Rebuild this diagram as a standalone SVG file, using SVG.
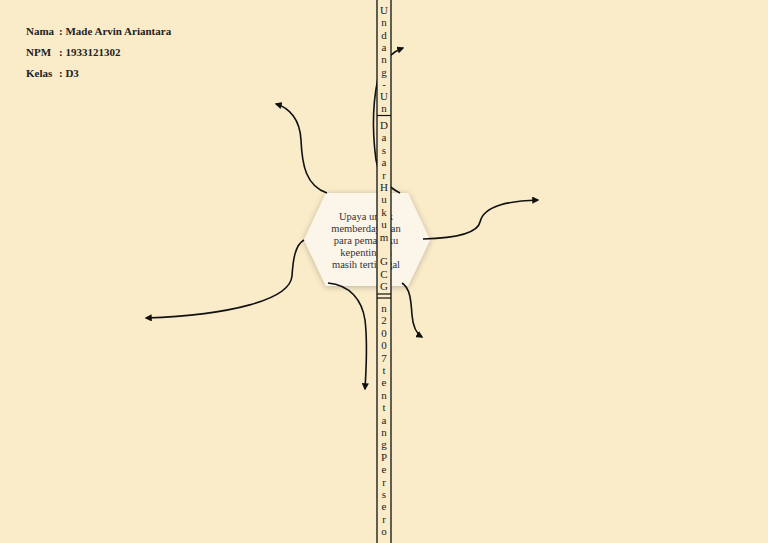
<svg xmlns="http://www.w3.org/2000/svg" width="768" height="543" viewBox="0 0 768 543">
<defs>
<style>
.info{font-family:"Liberation Serif","Times New Roman",serif;font-size:11px;font-weight:bold;fill:#222}
.hex-text{font-family:"Liberation Serif","Times New Roman",serif;font-size:10.5px;fill:#333;text-anchor:middle}
.col-text{font-family:"Liberation Serif","Times New Roman",serif;font-size:11px;fill:#222;text-anchor:middle}
.conn{fill:none;stroke:#111;stroke-width:1.6;marker-end:url(#arrow)}
.col{fill:#faebc9;stroke:#111;stroke-width:1.3}
</style>
<marker id="arrow" viewBox="0 0 10 10" refX="8" refY="5" markerWidth="4.5" markerHeight="4.5" orient="auto" markerUnits="strokeWidth">
<path d="M0,0 L10,5 L0,10 z" fill="#111"/>
</marker>
<filter id="shadow" x="-20%" y="-20%" width="140%" height="140%">
<feGaussianBlur in="SourceAlpha" stdDeviation="3"/>
<feOffset dx="0" dy="1" result="b"/>
<feComponentTransfer><feFuncA type="linear" slope="0.25"/></feComponentTransfer>
<feMerge><feMergeNode/><feMergeNode in="SourceGraphic"/></feMerge>
</filter>
</defs>
<rect x="0" y="0" width="768" height="543" fill="#faebc9"/>

<g id="info">
<text class="info" x="26" y="35">Nama</text><text class="info" x="59" y="35">: Made Arvin Ariantara</text>
<text class="info" x="26" y="56">NPM</text><text class="info" x="59" y="56">: 1933121302</text>
<text class="info" x="26" y="77">Kelas</text><text class="info" x="59" y="77">: D3</text>
</g>

<g id="center-node">
<polygon points="304,240 326,193 408,193 430,240 408,286 326,286" fill="#fcf5ea" filter="url(#shadow)"/>
<text class="hex-text" x="366" y="220">Upaya untuk</text>
<text class="hex-text" x="366" y="232">memberdayakan</text>
<text class="hex-text" x="366" y="244">para pemangku</text>
<text class="hex-text" x="366" y="256">kepentingan</text>
<text class="hex-text" x="366" y="268">masih tertinggal</text>
</g>

<g id="connectors">
<path class="conn" d="M327,193 C306,186 302,165 301,140 C300,120 290,108 276,104"/>
<path class="conn" d="M400,193 C390,188 380,180 376,160 C372,130 372,100 380,70 C385,58 392,52 403,48"/>
<path class="conn" d="M423,239 C460,238 478,232 480,222 C484,205 510,201 538,200"/>
<path class="conn" d="M304,240 C295,245 293,260 292,276 C290,300 230,315 146,318"/>
<path class="conn" d="M328,283 C350,285 362,300 365,320 C368,345 366,370 365,389"/>
<path class="conn" d="M402,283 C410,288 411,300 412,315 C413,328 417,334 422,337"/>
</g>

<g id="column">
<rect class="col" x="377" y="-2" width="14" height="547"/>
<line x1="377" y1="115.5" x2="391" y2="115.5" stroke="#111" stroke-width="1.2"/>
<line x1="377" y1="294" x2="391" y2="294" stroke="#111" stroke-width="1.2"/>
<line x1="377" y1="298" x2="391" y2="298" stroke="#111" stroke-width="1.2"/>
<text class="col-text" x="384 384 384 384 384 384 384 384 384" y="14 26.3 38.6 50.9 63.2 75.5 87.8 100.1 112.4">Undang-Un</text>
<text class="col-text" x="384 384 384 384 384 384 384 384 384 384 384 384 384 384" y="129 141.4 153.8 166.2 178.6 191 203.4 215.8 228.2 240.6 253 265.4 277.8 290.2">DasarHukum GCG</text>
<text class="col-text" x="384 384 384 384 384 384 384 384 384 384 384 384 384 384 384 384 384 384 384" y="312 324.4 336.8 349.2 361.6 374 386.4 398.8 411.2 423.6 436 448.4 460.8 473.2 485.6 498 510.4 522.8 535.2">n2007tentangPersero</text>
</g>
</svg>
